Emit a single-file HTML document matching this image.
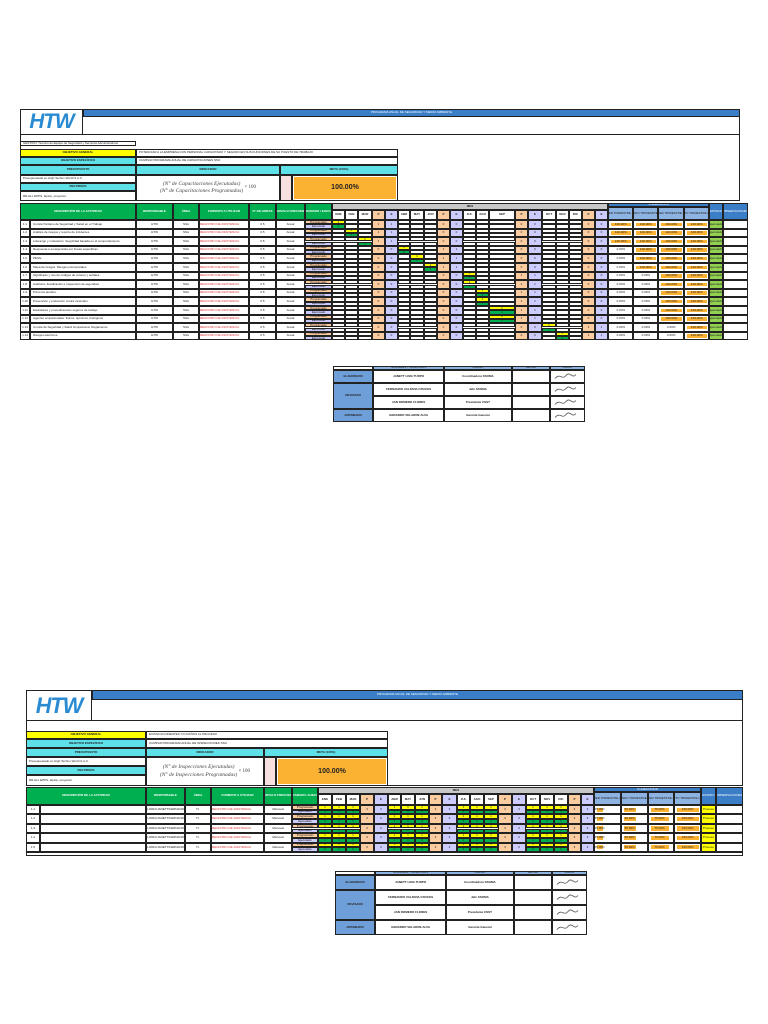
<!DOCTYPE html>
<html><head><meta charset="utf-8"><style>
html,body{margin:0;padding:0;background:#fff;width:768px;height:1024px;overflow:hidden;font-family:"Liberation Sans",sans-serif}
.c{position:absolute;box-sizing:border-box;border:0.8px solid #222;font-size:3px;line-height:1.1;color:#222;display:flex;align-items:center;justify-content:center;text-align:center;overflow:hidden;white-space:nowrap}
.l{justify-content:flex-start;padding-left:2px;text-align:left}
.b{font-weight:bold}
</style></head><body>
<div id="root"></div>
<script>
const months1=["ENE","FEB","MAR","P","E","ABR","MAY","JUN","P","E","JUL","AGO","SEP","P","E","OCT","NOV","DIC","P","E"];
const desc1=["Comité Paritario de Seguridad y Salud en el Trabajo","Análisis de riesgos y reporte de incidentes","Liderazgo y motivación. Seguridad basada en el comportamiento.","Respuesta a emergencias por líneas específicas.","PESG.","Mapa de riesgos. Riesgos psicosociales.","Significado y uso de códigos de colores y señales.","Auditoría, fiscalización e inspección de seguridad.","Primeros auxilios.","Prevención y protección contra incendios.","Estándares y procedimientos seguros de trabajo","Agentes ocupacionales: físicos, químicos, biológicos","Comité de Seguridad y Salud Ocupacional. Reglamento","Riesgos eléctricos.","Ergonomía y herramientas de trabajo","Protección personal (EPP)."];
const progMonth1=[0,1,2,5,6,7,10,10,11,11,12,12,15,16];
const pctFill1=[4,4,4,3,3,3,2,2,2,2,2,2,1,1];
const pctLabels=["25.00%","50.00%","75.00%","100.00%"];
const desc2=["","","","",""];
const root=document.getElementById('root');
function cell(x,y,w,h,bg,txt,name,cls){
  const el=document.createElement('div');
  el.className='c '+(cls||'');
  el.style.left=x+'px';el.style.top=y+'px';el.style.width=w+'px';el.style.height=h+'px';
  if(bg)el.style.background=bg;
  if(txt)el.textContent=txt;
  
  
  root.appendChild(el);return el;
}
function sheet(o){
  const s=o.s;
  cell(o.x0,o.y0,o.x1-o.x0,o.fy-o.y0,'#fff','',s+'-outer-frame');
  cell(o.x0,o.y0,o.x1-o.x0,o.hy-o.y0,'#fff','',s+'-header-frame');
  const lg=cell(o.x0,o.y0,o.lw,o.hy-o.y0,'#fff','',s+'-logo','b');
  lg.innerHTML='<span style="font-size:'+(o.lw*0.33)+'px;font-style:italic;color:#2a8bd2;font-weight:900;letter-spacing:-1px">HTW</span>';
  cell(o.x0+o.lw,o.y0,o.x1-o.x0-o.lw,o.bh,'#3b7ec8','PROGRAMA ANUAL DE SEGURIDAD Y MEDIO AMBIENTE',s+'-title-bar').style.color='#fff';
  const X=o.cols;const c=o.colX;
  cell(X.a,o.r[0],X.b-X.a,o.r[1]-o.r[0],'#ffff00','OBJETIVO GENERAL',s+'-objetivo-general-label','b');
  cell(X.b,o.r[0],X.e-X.b,o.r[1]-o.r[0],'#fff',o.og,s+'-objetivo-general','l');
  cell(X.a,o.r[1],X.b-X.a,o.r[2]-o.r[1],'#5ee0e8','OBJETIVO ESPECÍFICO',s+'-objetivo-especifico-label','b');
  cell(X.b,o.r[1],X.e-X.b,o.r[2]-o.r[1],'#fff',o.oe,s+'-objetivo-especifico','l');
  cell(X.a,o.r[2],X.b-X.a,o.r[3]-o.r[2],'#5ee0e8','PRESUPUESTO',s+'-presupuesto-label','b');
  cell(X.b,o.r[2],X.m-X.b,o.r[3]-o.r[2],'#5ee0e8','INDICADOR',s+'-indicador-label','b');
  cell(X.m,o.r[2],X.e-X.m,o.r[3]-o.r[2],'#5ee0e8','META (100%)',s+'-meta-label','b');
  const fh=o.r[4]-o.r[3];
  cell(X.a,o.r[3],X.b-X.a,fh*0.3,'#fff','Presupuestado en High Techno World S.A.C.',s+'-presupuesto','l');
  cell(X.a,o.r[3]+fh*0.3,X.b-X.a,fh*0.33,'#5ee0e8','RECURSOS',s+'-recursos-label','b');
  cell(X.a,o.r[3]+fh*0.63,X.b-X.a,fh*0.37,'#fff','RR.HH, EPPS, laptop, proyector',s+'-recursos','l');
  const f=cell(X.b,o.r[3],X.m-X.b,fh,'#fff','',s+'-formula');
  f.innerHTML='<span style="font-family:\'Liberation Serif\',serif;font-style:italic;font-size:5.5px;color:#444;line-height:1.3">('+o.fn+')<br>('+o.fd+')</span><span style="font-family:\'Liberation Serif\',serif;font-size:5px;color:#444">&nbsp;× 100</span>';
  cell(X.m,o.r[3],12,fh,'#f8e0e0','',s+'-meta-side');
  cell(X.m+12,o.r[3],X.e-X.m-12,fh,'#fff','',s+'-meta-box');
  const inner=cell(X.m+14,o.r[3]+2,X.e-X.m-16,fh-4,'#fbb131','100.00%',s+'-meta-value','b');
  inner.style.fontSize='7px';inner.style.border='none';
  const hy=o.th[0],hh=o.th[1]-o.th[0];
  const heads=["DESCRIPCIÓN DE LA ACTIVIDAD","RESPONSABLE","ÁREA","FORMATO A UTILIZAR","N° DE HORAS","INTERVALO FRECUENCIA","PROGRAMADO / EJECUTADO"];
  for(let i=0;i<o.hc.length-1;i++){
    cell(o.hc[i],hy,o.hc[i+1]-o.hc[i],hh,'#00b050',heads[o.hmap[i]],s+'-header-'+i,'b').style.color='#fff';
  }
  cell(c[0],hy,c[c.length-1]-c[0],hh*0.4,'#c8c8c8','MES',s+'-mes-header','b');
  for(let i=0;i<months1.length;i++){
    const bg=months1[i]=="P"?'#fbcca0':months1[i]=="E"?'#ccccff':'#fff';
    cell(c[i],hy+hh*0.4,c[i+1]-c[i],hh*0.6,bg,months1[i],s+'-month-'+i,'b');
  }
  const p=o.pc;
  cell(p[0],hy,p[4]-p[0],hh*0.25,'#3b7ec8','% EJECUCIÓN',s+'-ejecucion-header').style.color='#fff';
  const pl=["PRIMER TRIMESTRE (25%)","SEGUNDO TRIMESTRE (50%)","TERCER TRIMESTRE (75%)","CUARTO TRIMESTRE (100%)"];
  for(let i=0;i<4;i++)cell(p[i],hy+hh*0.25,p[i+1]-p[i],hh*0.75,'#8db3e2',pl[i],s+'-trimestre-'+i);
  cell(p[4],hy,p[5]-p[4],hh,'#3b7ec8','ESTADO',s+'-estado-header').style.color='#fff';
  cell(p[5],hy,p[6]-p[5],hh,'#3b7ec8','OBSERVACIONES',s+'-observaciones-header').style.color='#fff';
  const n=o.rows;const ry0=o.th[1],rh=o.rh;
  for(let r=0;r<n;r++){
    const y=ry0+r*rh;
    cell(o.hc[0],y,o.nw,rh,'#fff','1.'+(r+1),s+'-row-num-'+r);
    cell(o.hc[0]+o.nw,y,o.hc[1]-o.hc[0]-o.nw,rh,'#fff',o.desc[r],s+'-row-desc-'+r,'l');
    for(let i=1;i<o.hc.length-2;i++){
      const hi=o.hmap[i];
      let t=hi==1?o.resp:hi==2?o.area:hi==3?'REGISTRO DE ASISTENCIA':hi==4?o.hrs:o.freq;
      const e=cell(o.hc[i],y,o.hc[i+1]-o.hc[i],rh,'#fff',t,s+'-row-'+r+'-col-'+i);
      if(hi==3){e.style.color='#d33';e.style.justifyContent='flex-start';}
    }
    const gx=o.hc[o.hc.length-2],gw=o.hc[o.hc.length-1]-gx;
    cell(gx,y,gw,rh/2,'#fbcca0','Programado',s+'-row-prog-'+r);
    cell(gx,y+rh/2,gw,rh/2,'#ccccff','Ejecutado',s+'-row-ejec-'+r);
    for(let i=0;i<months1.length;i++){
      const m=months1[i];const w=c[i+1]-c[i];
      if(m=="P"||m=="E"){
        cell(c[i],y,w,rh,m=="P"?'#fbcca0':'#ccccff',o.pe(r,i),s+'-row-'+r+'-'+m+'-'+i);
      }else{
        const on=o.on(r,i);
        cell(c[i],y,w,rh/2,on?'#ffff00':'#fff',on?'1':'',s+'-row-'+r+'-plan-'+i);
        cell(c[i],y+rh/2,w,rh/2,on?'#00b050':'#fff',on?'1':'',s+'-row-'+r+'-done-'+i);
      }
    }
    for(let i=0;i<4;i++){
      const e=cell(p[i],y,p[i+1]-p[i],rh,'#fff','',s+'-row-'+r+'-pct-'+i);
      const fill=o.fill(r,i);
      const b=document.createElement('div');
      
      
      b.textContent=fill.t;
      b.style.cssText='position:absolute;left:1.5px;top:1.5px;bottom:1.5px;display:flex;align-items:center;justify-content:center;font-size:3px;width:'+fill.w+'%;background:'+(fill.on?'#fbb131':'transparent');
      if(!fill.on){b.style.width='90%';}
      e.appendChild(b);
    }
    cell(p[4],y,p[5]-p[4],rh,o.estBg,o.est,s+'-row-estado-'+r);
    cell(p[5],y,p[6]-p[5],rh,'#fff','',s+'-row-obs-'+r);
  }
}
function sig(s,x,y,w,rows){
  const cw=[0,0.16,0.44,0.71,0.86,1].map(v=>x+v*w);
  const hh=4;
  cell(cw[0],y,cw[1]-cw[0],hh,'#fff','',s+'-sig-corner');
  const h=["NOMBRES Y APELLIDOS","CARGO","FECHA","FIRMA"];
  for(let i=1;i<5;i++)cell(cw[i],y,cw[i+1]-cw[i],hh,'#8db3e2',h[i-1],s+'-sig-head-'+i);
  const names=["JANETT LIMA TURPO","FERNANDO VALDIVIA CRUCES","JAN ROMERO FLORES","GERARDO VELARDE ALVA"];
  const cargos=["Coordinadora SSOMA","Jefe SSOMA","Presidente CSST","Gerente General"];
  const rh=(rows-hh)/4;
  cell(cw[0],y+hh,cw[1]-cw[0],rh,'#6f9fd8','ELABORADO',s+'-sig-elaborado','b');
  cell(cw[0],y+hh+rh,cw[1]-cw[0],rh*2,'#6f9fd8','REVISADO',s+'-sig-revisado','b');
  cell(cw[0],y+hh+rh*3,cw[1]-cw[0],rh,'#6f9fd8','APROBADO',s+'-sig-aprobado','b');
  for(let r=0;r<4;r++){
    const yy=y+hh+r*rh;
    cell(cw[1],yy,cw[2]-cw[1],rh,'#fff',names[r],s+'-sig-name-'+r,'b');
    cell(cw[2],yy,cw[3]-cw[2],rh,'#fff',cargos[r],s+'-sig-cargo-'+r,'b');
    cell(cw[3],yy,cw[4]-cw[3],rh,'#fff','',s+'-sig-fecha-'+r);
    const f=cell(cw[4],yy,cw[5]-cw[4],rh,'#fff','',s+'-sig-firma-'+r);
    f.innerHTML='<svg width="30" height="'+(rh-2)+'" viewBox="0 0 30 10"><path d="M3 7 C8 1 10 9 14 4 S20 8 24 3 27 6" fill="none" stroke="#555" stroke-width="0.8"/></svg>';
  }
}
const c1=[332,345,358,372,385,398,410,424,437,450,463,476,489,515,528,542,556,569,582,595,608];
sheet({s:'s1',x0:20,y0:109,x1:740,hy:135,fy:201,lw:63,bh:8,
  cols:{a:20,b:136,m:280,e:398},r:[149,157,165,175,201],
  og:'POTENCIAR A LA EMPRESA CON PERSONAL CAPACITADO Y SEGURO EN SUS FUNCIONES DE SU PUESTO DE TRABAJO',
  oe:'CUMPLIR PROGRAMA ANUAL DE CAPACITACIONES SSO',
  fn:'N° de Capacitaciones Ejecutadas',fd:'N° de Capacitaciones Programadas',
  th:[203,220],hc:[20,136,173,199,249,276,305,332],hmap:[0,1,2,3,4,5,6],colX:c1,
  pc:[608,633,658,684,709,723,748],rows:14,rh:8.6,nw:10,desc:desc1,
  resp:'HTW',area:'SSA',hrs:'0.5',freq:'Anual',
  on:(r,i)=>progMonth1[r]===i,
  pe:(r,i)=>{const q=Math.floor(i/5);return progMonth1[r]>=q*5&&progMonth1[r]<q*5+5?'1':'0';},
  fill:(r,i)=>{const on=i>=4-pctFill1[r];return {on:on,w:90,t:on?pctLabels[3]:'0.00%'};},
  estBg:'#92d050',est:'Ejecutado'});
cell(20,141,116,5,'#fff','GESTIÓN: Técnico de Equipo de Seguridad y Servicios Administrativos','s1-gestion','l');
const c2=[318,332,346,360,374,388,401,415,429,442,457,470,484,498,512,526,540,554,568,581,594];
sheet({s:'s2',x0:26,y0:690,x1:743,hy:721,fy:786,lw:66,bh:10,
  cols:{a:26,b:146,m:264,e:388},r:[731,739,748,757,786],
  og:'EVITAR ACCIDENTES Y/O DAÑOS AL PROCESO',
  oe:'CUMPLIR PROGRAMA ANUAL DE INSPECCIONES SSO',
  fn:'N° de Inspecciones Ejecutadas',fd:'N° de Inspecciones Programadas',
  th:[787,805],hc:[26,146,185,211,264,292,318],hmap:[0,1,2,3,5,6],colX:c2,
  pc:[594,621,648,674,701,716,743],rows:5,rh:9.4,nw:14,desc:desc2,
  resp:'GLORIA/JANETT/FERNANDO',area:'T.I.',hrs:'',freq:'Mensual',
  on:(r,i)=>true,
  pe:(r,i)=>'3',
  fill:(r,i)=>({on:true,w:[25,50,75,90][i],t:pctLabels[i]}),
  estBg:'#ffff00',est:'Proceso'});
cell(26,852,717,4,'#fff','','s2-sheet-bottom');
sig('s1',333,366,252,56);
sig('s2',335,871,252,64);
</script>
</body></html>
